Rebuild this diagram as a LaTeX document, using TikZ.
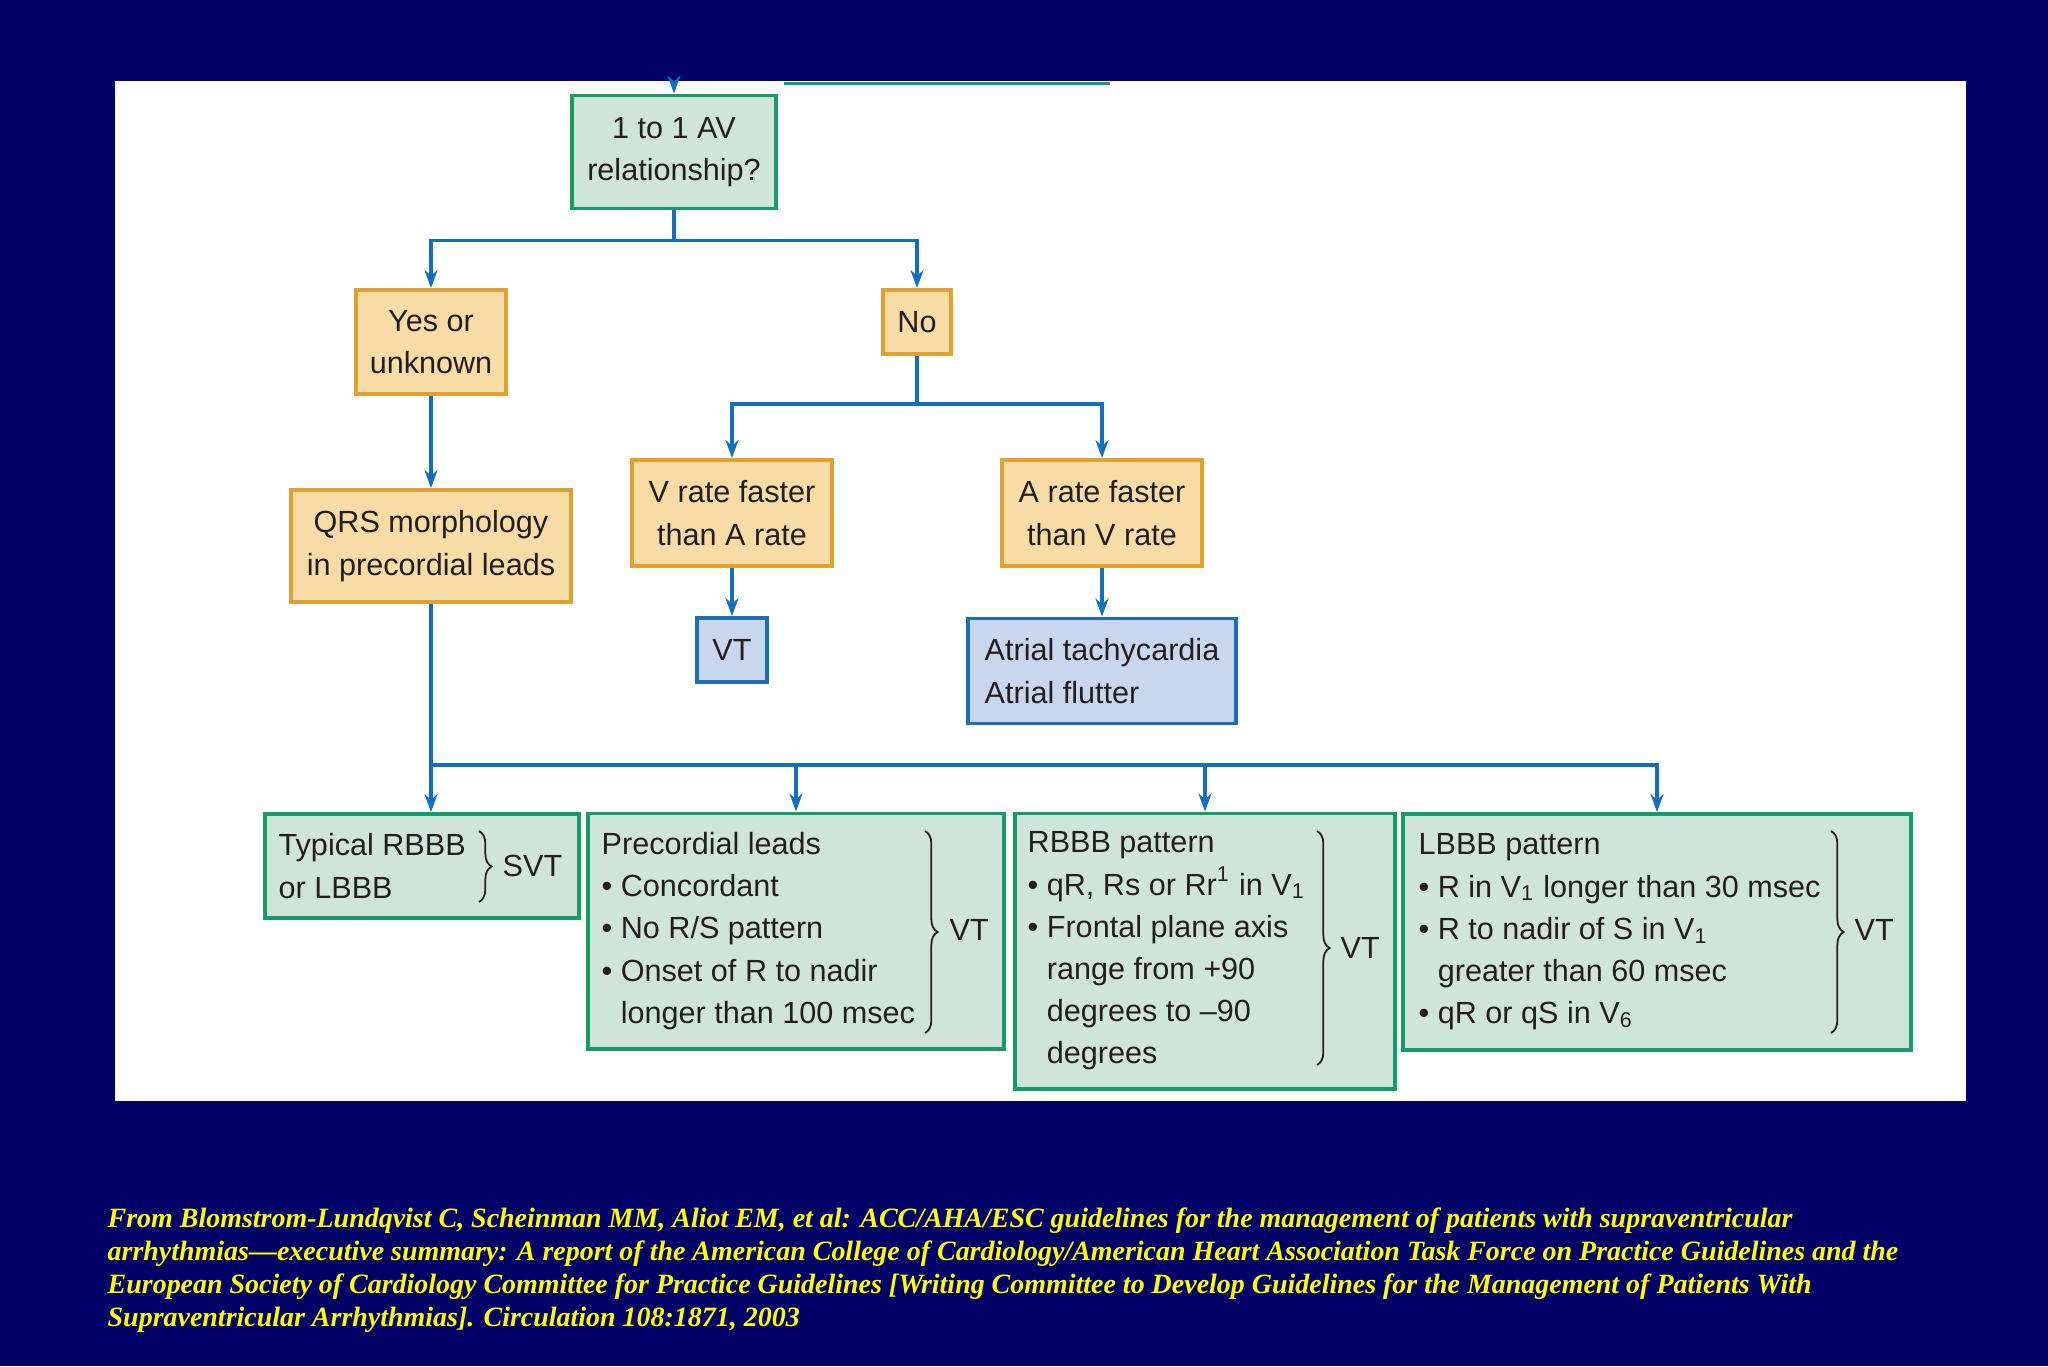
\documentclass[tikz,border=0pt]{standalone}
\usepackage{fontspec}
\setmainfont{Liberation Sans}
\newfontfamily\capfont{Liberation Serif}
\usetikzlibrary{positioning,arrows.meta,calc,decorations.pathreplacing}
\definecolor{navy}{HTML}{000066}
\definecolor{ink}{HTML}{231F20}
\definecolor{gfill}{HTML}{CFE5DA}
\definecolor{gline}{HTML}{179B6B}
\definecolor{ofill}{HTML}{F7DCA5}
\definecolor{oline}{HTML}{E1A032}
\definecolor{bfill}{HTML}{C8D6EE}
\definecolor{bline}{HTML}{1E6EB4}
\definecolor{flowc}{HTML}{146EBE}
\definecolor{capc}{HTML}{FFFF00}
\tikzset{
  txt/.style={font=\fontsize{8.7}{12}\selectfont, text=ink},
  qbox/.style={draw=gline, line width=1.1pt, fill=gfill, align=center, inner sep=0pt, txt},
  obox/.style={draw=oline, line width=1.1pt, fill=ofill, align=center, inner sep=0pt, txt},
  rbox/.style={draw=bline, line width=1.1pt, fill=bfill, align=left, inner sep=0pt, txt},
  leaf/.style={draw=gline, line width=1.1pt, fill=gfill, inner sep=0pt},
  leaftxt/.style={txt, align=left, inner sep=0pt},
  brc/.style={draw=ink, line width=0.5pt, decorate, decoration={brace, amplitude=3.6pt}},
  brlbl/.style={txt, anchor=west, inner sep=0pt},
  flow/.style={-{Stealth[length=1.8mm,width=1.3mm]}, line width=1pt, draw=flowc},
  % ---- tree connectors ----
  branch/.style={flow,
    to path={(\tikztostart) -- ($(\tikztostart)+(0,#1)$) -| (\tikztotarget)}},
  citetxt/.style={font=\capfont\bfseries\itshape\fontsize{7.95}{9.4}\selectfont, text=capc,
              align=left, inner sep=0pt, anchor=north west},
}

\begin{document}
\begin{tikzpicture}[x=0.01cm, y=-0.01cm]
  \useasboundingbox (0,0) rectangle (2048,1366);
  \fill[navy] (0,0) rectangle (2048,1366);
  \fill[white] (115,81) rectangle (1966,1101);
  \draw[gline, line width=0.85pt] (784,83) -- (1110,83);
  % questions
  \node[qbox, minimum width=2.04cm, minimum height=1.13cm] (q1) at (674,152) {1 to 1 AV\\relationship?};
  \node[obox, minimum width=1.50cm, minimum height=1.04cm] (yes) at (431,342) {Yes or\\unknown};
  \node[obox, minimum width=0.68cm, minimum height=0.64cm] (no) at (917,322) {No};
  \node[obox, minimum width=2.80cm, minimum height=1.12cm] (qrs) at (431,546) {QRS morphology\\in precordial leads};
  \node[obox, minimum width=2.00cm, minimum height=1.06cm] (vr) at (732,513) {V rate faster\\than A rate};
  \node[obox, minimum width=2.00cm, minimum height=1.06cm] (ar) at (1102,513) {A rate faster\\than V rate};
  % results
  \node[rbox, minimum width=0.70cm, minimum height=0.64cm] (vt) at (732,650) {VT};
  \node[rbox, minimum width=2.68cm, minimum height=1.05cm] (atr) at (1102,671) {Atrial tachycardia\\Atrial flutter};
  % morphology boxes
  \node[leaf, minimum width=3.14cm, minimum height=1.04cm] (typ) at (422,866) {};
  \node[leaf, minimum width=4.16cm, minimum height=2.35cm] (prec) at (796,931) {};
  \node[leaf, minimum width=3.80cm, minimum height=2.75cm] (rbbb) at (1205,951) {};
  \node[leaf, minimum width=5.08cm, minimum height=2.36cm] (lbbb) at (1657,932) {};
  \node[leaftxt, right=0.15cm of typ.west] (typtxt) {Typical RBBB\\or LBBB};
  \node[leaftxt, right=0.15cm of prec.west] (prectxt)
     {Precordial leads\\• Concordant\\• No R/S pattern\\• Onset of R to nadir\\\hphantom{• }longer than 100 msec};
  \node[leaftxt, right=0.14cm of rbbb.west] (rbbbtxt)
     {RBBB pattern\\• qR, Rs or Rr\textsuperscript{1} in V\textsubscript{1}\\• Frontal plane axis\\\hphantom{• }range from +90\\\hphantom{• }degrees to –90\\\hphantom{• }degrees};
  \node[leaftxt, right=0.17cm of lbbb.west] (lbbbtxt)
     {LBBB pattern\\• R in V\textsubscript{1} longer than 30 msec\\• R to nadir of S in V\textsubscript{1}\\\hphantom{• }greater than 60 msec\\• qR or qS in V\textsubscript{6}};
  % braces
  \draw[brc] (479,831) -- (479,902);
  \node[brlbl] (typlbl) at (502,866) {SVT};
  \draw[brc] (925,831) -- (925,1033);
  \node[brlbl] (preclbl) at (949,930) {VT};
  \draw[brc] (1317,831) -- (1317,1065);
  \node[brlbl] (rbbblbl) at (1340,948) {VT};
  \draw[brc] (1831,831) -- (1831,1033);
  \node[brlbl] (lbbblbl) at (1854,930) {VT};
  % connectors
  \coordinate (entry) at (674,81);
  \draw[flow] (entry) -- (q1.north);
  \draw[branch=30] (q1.south) to (yes.north);
  \draw[branch=30] (q1.south) to (no.north);
  \draw[branch=48] (no.south) to (vr.north);
  \draw[branch=48] (no.south) to (ar.north);
  \draw[flow] (yes) -- (qrs);
  \draw[flow] (vr) -- (vt);
  \draw[flow] (ar) -- (atr);
  \draw[branch=161] (qrs.south) to (typ.north -| qrs.south);
  \draw[branch=161] (qrs.south) to (prec.north);
  \draw[branch=161] (qrs.south) to (rbbb.north);
  \draw[branch=161] (qrs.south) to (lbbb.north);
  % source
  \node[citetxt] (cite) at (107,1207)
     {From Blomstrom-Lundqvist C, Scheinman MM, Aliot EM, et al: ACC/AHA/ESC guidelines for the management of patients with supraventricular\\
      arrhythmias—executive summary: A report of the American College of Cardiology/American Heart Association Task Force on Practice Guidelines and the\\
      European Society of Cardiology Committee for Practice Guidelines [Writing Committee to Develop Guidelines for the Management of Patients With\\
      Supraventricular Arrhythmias]. Circulation 108:1871, 2003};
\end{tikzpicture}
\end{document}
